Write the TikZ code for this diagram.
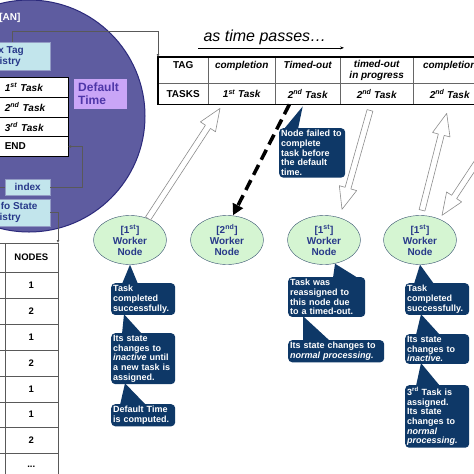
\documentclass[tikz,border=0pt]{standalone}
\usepackage{fontspec}
\setmainfont{Liberation Sans}
\usetikzlibrary{arrows.meta,calc,shapes.geometric}

\definecolor{circfill}{HTML}{5E5CA0}
\definecolor{circline}{HTML}{2C2A7C}
\definecolor{regfill}{HTML}{C2E5EC}
\definecolor{regtext}{HTML}{28398A}
\definecolor{lilac}{HTML}{C9A5F7}
\definecolor{lilactext}{HTML}{4E36A8}
\definecolor{wfill}{HTML}{D5F5D2}
\definecolor{wline}{HTML}{34506E}
\definecolor{navy}{HTML}{0E3867}

% hollow block arrow from #1 to #2
\newcommand\hollowarrow[2]{%
  \coordinate (hb) at ($(#2)!22pt!(#1)$);
  \filldraw[fill=white,draw=black!45,line width=0.6pt,line join=round]
    ($(#1)!3pt!90:(#2)$) -- ($(hb)!3pt!-90:(#1)$) -- ($(hb)!9pt!-90:(#1)$) -- (#2)
    -- ($(hb)!9pt!90:(#1)$) -- ($(hb)!3pt!90:(#1)$) -- ($(#1)!3pt!-90:(#2)$) -- cycle;}
% pointer of a note
\newcommand\notetip[4]{\fill[navy] ($(#1.north west)+(#2,1)$) -- ($(#1.north west)+(#3,1)$) -- (#4) -- cycle;}

\begin{document}
\begin{tikzpicture}[x=1pt,y=-1pt,
  conn/.style={draw=black!65,line width=0.6pt,-{Latex[length=3pt,width=3pt]}},
  regbox/.style={draw=regtext!50,fill=regfill,text=regtext,font=\bfseries\fontsize{10}{11}\selectfont,align=center,minimum width=98pt,minimum height=28pt,inner sep=1pt},
  tcell/.style={draw=black,fill=white,minimum width=84pt,minimum height=19.8pt,text width=42pt,align=left,inner sep=0pt,font=\bfseries\itshape\fontsize{10}{11}\selectfont},
  hcell/.style={draw=black!60,anchor=north west,align=center,inner sep=0pt,font=\bfseries\itshape\fontsize{10}{11}\selectfont},
  ncell/.style={draw=black!65,fill=white,anchor=north east,minimum width=53pt,minimum height=25.9pt,inner sep=0pt,font=\bfseries\fontsize{9.5}{10}\selectfont},
  wnode/.style={ellipse,draw=wline,fill=wfill,minimum width=73pt,minimum height=49pt,inner sep=0pt,align=center,text=regtext,font=\bfseries\fontsize{10}{11}\selectfont},
  note/.style={fill=navy,text=white,anchor=north west,align=left,rounded corners=4pt,inner xsep=2pt,inner ysep=2pt,font=\bfseries\fontsize{9}{9.7}\selectfont}]
  \useasboundingbox (0,0) rectangle (474,474);
  \clip (0,0) rectangle (474,474);
  \fill[white] (0,0) rectangle (474,474);

  % master side
  \filldraw[fill=circfill,draw=circline,line width=1pt] (29,116) circle (116pt);
  \node[anchor=east,text=white,font=\bfseries\fontsize{10}{11}\selectfont] (anlabel) at (24,18) {[AN]};
  \node[regbox,anchor=east] (tagreg) at (50,56) {Index Tag\\Registry};
  \foreach \t [count=\i] in {1\textsuperscript{st} Task,2\textsuperscript{nd} Task,3\textsuperscript{rd} Task}
    \node[tcell,anchor=north east] (task\i) at (68,{77+(\i-1)*19.8}) {\mbox{\t}};
  \node[tcell,anchor=north east,font=\bfseries\fontsize{10}{11}\selectfont] (tend) at (68,136.4) {END};
  \node[fill=lilac,text=lilactext,anchor=north west,align=left,text width=45pt,inner sep=4pt,minimum height=30pt,font=\bfseries\fontsize{12}{13}\selectfont] (deftime) at (74,79) {Default\\Time};
  \node[regbox,anchor=north west,minimum width=45pt,minimum height=16pt] (index) at (5,179) {index};
  \node[regbox,anchor=east,minimum height=27pt] (statereg) at (50,212.5) {Node Info State\\Registry};

  % node table
  \node[ncell,minimum height=29pt] (nodeshdr) at (58,243) {NODES};
  \node[ncell,minimum width=50pt,minimum height=29pt] (lefthdr) at (5,243) {};
  \foreach \v [count=\i] in {1,2,1,2,1,1,2}{
    \node[ncell] (n\i) at (58,{272+(\i-1)*25.9}) {\v};
    \node[ncell,minimum width=50pt] (m\i) at (5,{272+(\i-1)*25.9}) {};}
  \node[ncell] (n8) at (58,453.3) {...};
  \node[ncell,minimum width=50pt] (m8) at (5,453.3) {};

  % time line
  \node[anchor=base west,font=\itshape\fontsize{16}{19}\selectfont] (astime) at (200,41) {as time passes…};
  \coordinate (timeend) at (344,44);
  \draw[line width=0.6pt,-{Stealth[length=4pt,width=3pt]}] ([xshift=-2pt]astime.south west) -- (astime.south west -| timeend);

  \node[hcell,minimum width=50pt,minimum height=26pt,font=\bfseries\fontsize{10}{11}\selectfont] (tag) at (158,57) {TAG\\\mbox{}};
  \node[hcell,minimum width=67pt,minimum height=26pt] (tag1) at (208,57) {completion\\\mbox{}};
  \node[hcell,minimum width=65pt,minimum height=26pt] (tag2) at (275,57) {Timed-out\\\mbox{}};
  \node[hcell,minimum width=73pt,minimum height=26pt] (tag3) at (340,57) {timed-out\\in progress};
  \node[hcell,minimum width=73pt,minimum height=26pt] (tag4) at (413,57) {completion\\\mbox{}};
  \node[hcell,minimum width=50pt,minimum height=21pt,font=\bfseries\fontsize{10}{11}\selectfont] (tasks) at (158,83) {TASKS};
  \node[hcell,minimum width=67pt,minimum height=21pt] (tsk1) at (208,83) {1\textsuperscript{st} Task};
  \node[hcell,minimum width=65pt,minimum height=21pt] (tsk2) at (275,83) {2\textsuperscript{nd} Task};
  \node[hcell,minimum width=73pt,minimum height=21pt] (tsk3) at (340,83) {2\textsuperscript{nd} Task};
  \node[hcell,minimum width=73pt,minimum height=21pt] (tsk4) at (413,83) {2\textsuperscript{nd} Task};
  \draw[line width=1.3pt] (tag.north west) rectangle (tsk4.south east);

  \draw[conn] ([xshift=11pt]tagreg.north) -- ++(0,-11) -| (tag.north west);
  \draw[conn] (index.east) -- ++(32,0) |- (tend.east);
  \draw[conn] (statereg.east) -| (nodeshdr.north east);
  \draw[draw=black!65,line width=0.6pt] (index.west) -- ++(-10,0);

  % worker nodes
  \node[wnode] (w1) at (130,240) {[1\textsuperscript{st}]\\Worker\\Node};
  \node[wnode] (w2) at (227,240) {[2\textsuperscript{nd}]\\Worker\\Node};
  \node[wnode] (w3) at (324,240) {[1\textsuperscript{st}]\\Worker\\Node};
  \node[wnode] (w4) at (420,240) {[1\textsuperscript{st}]\\Worker\\Node};

  \coordinate (a1s) at (w1.50);
  \coordinate (a1e) at ([xshift=12pt,yshift=-4pt]tsk1.south west);
  \coordinate (a2s) at ([xshift=30pt,yshift=-6pt]tsk3.south west);
  \coordinate (a2e) at ($(w3.north)+(18,-6)$);
  \coordinate (a3s) at ($(w4.north)+(2,-5)$);
  \coordinate (a3e) at ([xshift=-3pt,yshift=-9pt]tsk4.south);
  \coordinate (a4s) at (505,120);
  \coordinate (a4e) at ($(w4.north)+(22,0)$);
  \hollowarrow{a1s}{a1e}
  \hollowarrow{a2s}{a2e}
  \hollowarrow{a3s}{a3e}
  \hollowarrow{a4s}{a4e}

  \coordinate (dashstart) at ($(tsk2.south west)!0.22!(tsk2.south east)$);
  \draw[line width=3.5pt,dash pattern=on 11pt off 6pt,-{Triangle[length=11pt,width=11pt]}] (dashstart) -- ([xshift=6pt]w2.north);

  % notes
  \node[note,text width=62pt] (cfail) at (279,128) {Node failed to\\complete\\task before\\the default\\time.};
  \notetip{cfail}{5}{19}{$(tsk2.south)+(-5,2)$}
  \node[note,text width=60pt] (c1) at (111,283) {Task\\completed\\successfully.};
  \notetip{c1}{11}{27}{w1.south}
  \node[note,text width=60pt] (c2) at (111,333) {Its state\\changes to\\\textit{inactive} until\\a new task is\\assigned.};
  \notetip{c2}{11}{31}{$(c1.south west)+(13,-1)$}
  \node[note,text width=60pt] (c3) at (111,404) {Default Time\\is computed.};
  \notetip{c3}{9}{35}{$(c2.south west)+(14,-1)$}
  \node[note,text width=73pt] (c4) at (288,277) {Task was\\reassigned to\\this node due\\to a timed-out.};
  \notetip{c4}{45}{70}{$(w3.south)+(11,-1)$}
  \node[note,text width=92pt] (c5) at (288,340) {Its state changes to\\\textit{normal processing.}};
  \notetip{c5}{15}{42}{$(c4.south west)+(15,-1)$}
  \node[note,text width=60pt] (c6) at (405,283) {Task\\completed\\successfully.};
  \notetip{c6}{9}{29}{w4.south}
  \node[note,text width=60pt] (c7) at (405,334) {Its state\\changes to\\\textit{inactive.}};
  \notetip{c7}{11}{35}{$(c6.south west)+(16,-1)$}
  \node[note,text width=60pt] (c8) at (405,385) {3\textsuperscript{rd} Task is\\assigned.\\Its state\\changes to\\\textit{normal}\\\textit{processing.}};
  \notetip{c8}{11}{35}{$(c7.south west)+(16,-1)$}
\end{tikzpicture}
\end{document}
